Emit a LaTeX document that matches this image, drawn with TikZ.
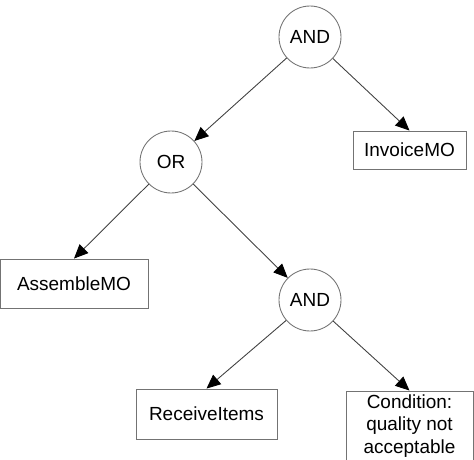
\documentclass[tikz,border=0pt]{standalone}
\usepackage{fontspec}
\setmainfont{Liberation Sans}
\usetikzlibrary{arrows.meta}
\colorlet{EdgeGray}{black!55}
\colorlet{LineGray}{black!75}

\begin{document}
\begin{tikzpicture}[
      x=0.02cm,y=-0.02cm,
      gate/.style={circle,draw=EdgeGray,line width=0.5pt,minimum size=1.24cm,inner sep=0pt,font=\fontsize{10.8}{12}\selectfont},
      leaf/.style={rectangle,draw=EdgeGray,line width=0.5pt,align=center,inner sep=0pt,font=\fontsize{10.8}{13}\selectfont},
      arr/.style={-{Triangle[length=8pt,width=7pt,black]},line width=0.5pt,LineGray}
    ]
    \useasboundingbox (0,0) rectangle (474,460);
    \node[gate] (and1) at (310,37) {AND};
    \node[gate] (or) at (171,162) {OR};
    \node[gate] (and2) at (310,300) {AND};
    \node[leaf,minimum width=2.26cm,minimum height=0.76cm] (inv) at (409.5,150) {InvoiceMO};
    \node[leaf,minimum width=2.96cm,minimum height=0.98cm] (asm) at (74,283.5) {AssembleMO};
    \node[leaf,minimum width=2.82cm,minimum height=1.0cm] (recv) at (206.5,414) {ReceiveItems};
    \node[leaf,minimum width=2.54cm,minimum height=1.40cm] (cond) at (409.5,426) {Condition:\\quality not\\acceptable};
    \draw[arr] (and1) -- (or);
    \draw[arr] (and1) -- (inv.north);
    \draw[arr] (or) -- (asm.north);
    \draw[arr] (or) -- (and2);
    \draw[arr] (and2) -- (recv.north);
    \draw[arr] (and2) -- (cond.north);
\end{tikzpicture}
\end{document}
